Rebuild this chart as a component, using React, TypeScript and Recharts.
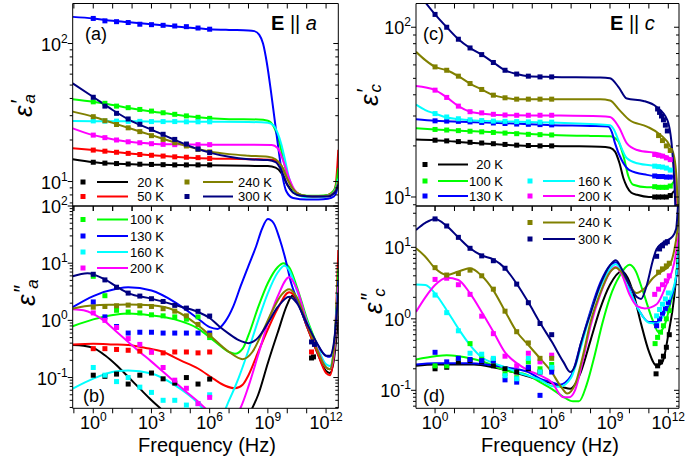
import React from "react"
import { ComposedChart, Line, Scatter, XAxis, YAxis } from "recharts"

const W = 685
const H = 457
const FONT = "'Liberation Sans', Arial, Helvetica, sans-serif"

// temperatures and their colours
const temps = ["20 K", "50 K", "100 K", "130 K", "160 K", "200 K", "240 K", "300 K"]
const colors = ["#000000", "#ff0000", "#00ff00", "#0000ff", "#00ffff", "#ff00ff", "#808000", "#000080"]

// log10 of the frequencies of the low-frequency data points
const ptLogF = [0, 0.6, 1.2, 1.8, 2.4, 3.0, 3.6, 4.2, 4.8, 5.4, 6.0]

// axis ticks (x in decades)
const xTicksA = [-1, 0, 1, 2, 3, 4, 5, 6, 7, 8, 9, 10, 11, 12]
const xTicksC = [0, 1, 2, 3, 4, 5, 6, 7, 8, 9, 10, 11, 12]
const yTicksA = [7, 8, 9, 10, 20, 30, 40, 50, 60, 70, 80, 90, 100]
const yTicksB = [0.03, 0.04, 0.05, 0.06, 0.07, 0.08, 0.09, 0.1, 0.2, 0.3, 0.4, 0.5, 0.6, 0.7, 0.8, 0.9, 1, 2, 3, 4, 5, 6, 7, 8, 9, 10, 20, 30, 40, 50, 60, 70, 80, 90, 100]
const yTicksC = [9, 10, 20, 30, 40, 50, 60, 70, 80, 90, 100]
const yTicksD = [0.06, 0.07, 0.08, 0.09, 0.1, 0.2, 0.3, 0.4, 0.5, 0.6, 0.7, 0.8, 0.9, 1, 2, 3, 4, 5, 6, 7, 8, 9, 10, 20, 30]

// (a) eps'_a : fits as [log10 f, value], points at ptLogF
const a20Fit = [[-1.06, 14.5], [0, 13.8], [1, 13.5], [2, 13.35], [4, 13.2], [6, 13.1], [8, 13.0], [9, 12.95], [9.4, 12.6], [9.7, 11.5], [10, 9.5], [10.3, 8.4], [10.7, 7.9], [11.2, 7.8], [11.7, 7.8], [12.1, 7.9], [12.4, 8.3], [12.52, 8.8], [12.63, 10]]
const a50Fit = [[-1.06, 17.4], [0, 16.9], [1, 16.4], [2, 15.9], [3, 15.5], [4, 15.2], [5, 14.9], [6, 14.7], [7, 14.6], [8.5, 14.5], [9.3, 14.3], [9.7, 13], [10, 10.5], [10.3, 8.8], [10.7, 8.0], [11.2, 7.8], [11.7, 7.8], [12.1, 8.0], [12.4, 8.6], [12.5, 9.5], [12.58, 13], [12.63, 17]]
const a100Fit = [[-1.06, 39.5], [0, 37.8], [1, 35.8], [2, 33.8], [3, 32.2], [4, 30.9], [5, 29.6], [6, 28.7], [7, 28.3], [8.5, 28.2], [9, 27.6], [9.3, 25], [9.6, 19], [9.9, 12.5], [10.2, 9.3], [10.5, 8.2], [11, 7.9], [11.6, 7.9], [12.1, 8.0], [12.4, 8.6], [12.52, 9.5], [12.63, 12.5]]
const a130Fit = [[-1.06, 156], [0, 152], [1, 146], [2, 142], [3, 138], [4, 134], [5, 130], [6, 127], [7, 125.5], [8, 124.5], [8.3, 123], [8.55, 116], [8.75, 100], [8.95, 72], [9.15, 46], [9.35, 28], [9.55, 17], [9.75, 11], [9.95, 8.5], [10.3, 7.6], [11, 7.4], [11.6, 7.4], [12.1, 7.5], [12.4, 7.8], [12.52, 8.3], [12.63, 10]]
const a160Fit = [[-1.06, 27.5], [0, 27.4], [2, 27.3], [4, 27.2], [6, 27.1], [8, 27.0], [9, 26.7], [9.3, 25.5], [9.5, 22.5], [9.7, 18.5], [9.9, 14], [10.1, 10.5], [10.3, 8.8], [10.5, 8.0], [11, 7.7], [11.6, 7.7], [12.1, 7.9], [12.4, 8.4], [12.52, 9], [12.63, 10.5]]
const a200Fit = [[-1.06, 24.3], [0, 21.7], [0.6, 20.8], [1.2, 20.0], [1.8, 19.4], [2.4, 19.1], [3, 18.8], [4, 18.6], [6, 18.5], [8, 18.5], [9.2, 18.4], [9.5, 17.5], [9.8, 14], [10.1, 10.5], [10.4, 8.6], [10.8, 7.9], [11.4, 7.8], [12.1, 7.9], [12.4, 8.3], [12.52, 8.8], [12.63, 10]]
const a240Fit = [[-1.06, 32.1], [0, 29.5], [1, 26.6], [2, 24.0], [3, 21.7], [4, 19.6], [5, 17.8], [6, 16.5], [7, 15.8], [8, 15.4], [9, 15.1], [9.4, 14.5], [9.7, 13], [10, 10.5], [10.3, 8.8], [10.7, 8.0], [11.3, 7.8], [12.1, 7.9], [12.4, 8.3], [12.52, 8.8], [12.63, 10]]
const a300Fit = [[-1.06, 51.5], [0, 41], [1, 33], [2, 27.3], [3, 23.8], [4, 20.6], [5, 18], [6, 16.2], [7, 15.1], [8, 14.5], [9, 14.3], [9.4, 13.8], [9.7, 12], [10, 9.5], [10.3, 8.3], [10.7, 7.9], [11.3, 7.8], [12.1, 7.8], [12.4, 8.2], [12.52, 8.6], [12.63, 9.5]]
const a20Pts = [13.8, 13.6, 13.5, 13.4, 13.35, 13.3, 13.25, 13.2, 13.2, 13.2, 13.2]
const a50Pts = [16.9, 16.6, 16.3, 16.0, 15.7, 15.5, 15.3, 15.1, 15.0, 14.9, 14.7]
const a100Pts = [37.8, 36.9, 35.2, 34.3, 33.3, 32.4, 31.5, 30.7, 29.9, 29.2, 28.7]
const a130Pts = [152, 146, 144, 142, 138, 137, 135.5, 134, 132.5, 129.5, 127]
const a160Pts = [27.5, 27.4, 27.4, 27.3, 27.3, 27.2, 27.2, 27.2, 27.1, 27.1, 27.1]
const a200Pts = [21.7, 20.8, 20.0, 19.4, 19.1, 18.8, 18.6, 18.5, 18.5, 18.5, 18.5]
const a240Pts = [29.5, 27.6, 25.9, 24.5, 23.0, 21.5, 20.2, 19.1, 18.1, 17.1, 16.4]
const a300Pts = [40.8, 35.2, 31.2, 28.4, 26.0, 23.9, 22.0, 20.2, 18.7, 17.2, 16.2]

// (b) eps''_a
const b20Fit = [[-1.06, 0.37], [-0.5, 0.36], [0, 0.33], [0.6, 0.245], [1.2, 0.164], [1.8, 0.103], [2.4, 0.064], [3, 0.04], [3.6, 0.026], [4.2, 0.016], [5, 0.009], [6, 0.006], [7, 0.007], [7.6, 0.012], [8.1, 0.025], [8.5, 0.05], [9, 0.18], [9.5, 0.6], [10, 1.9], [10.25, 2.7], [10.5, 2.2], [11, 0.8], [11.5, 0.3], [12, 0.13], [12.2, 0.12], [12.4, 0.2], [12.63, 1.2]]
const b50Fit = [[-1.06, 0.38], [0, 0.39], [1, 0.38], [1.8, 0.37], [2.7, 0.33], [3.6, 0.28], [4.5, 0.2], [5.4, 0.144], [6.2, 0.095], [6.8, 0.072], [7.3, 0.065], [7.7, 0.075], [8, 0.11], [8.5, 0.28], [9, 0.7], [9.5, 1.6], [10.1, 3.1], [10.5, 2.3], [11, 0.8], [11.5, 0.3], [12, 0.12], [12.2, 0.11], [12.4, 0.25], [12.63, 17]]
const b100Fit = [[-1.06, 0.79], [0, 1.04], [1.2, 1.27], [1.8, 1.32], [3, 1.22], [4.2, 1.04], [5.4, 0.72], [6.3, 0.42], [7, 0.28], [7.3, 0.26], [7.7, 0.32], [8, 0.55], [8.5, 1.7], [9, 4.5], [9.5, 8.5], [9.8, 10], [10.1, 8.5], [10.5, 3.8], [11, 1.1], [11.5, 0.4], [12, 0.15], [12.2, 0.14], [12.4, 0.3], [12.63, 8]]
const b130Fit = [[-1.06, 1.7], [0, 2.66], [1.2, 3.56], [1.8, 3.8], [3, 3.33], [4.2, 2.09], [5.4, 1.07], [6, 0.76], [6.4, 0.71], [6.8, 0.95], [7.2, 1.7], [7.6, 4], [8, 9], [8.4, 20], [8.7, 40], [9, 59], [9.3, 50], [9.6, 27], [9.9, 12], [10.2, 4.5], [10.5, 2.3], [11, 0.85], [11.5, 0.4], [12, 0.24], [12.2, 0.23], [12.4, 0.35], [12.63, 5]]
const b160Fit = [[-1.06, 0.064], [0, 0.096], [1.2, 0.129], [1.8, 0.133], [3, 0.118], [4.2, 0.074], [5.4, 0.036], [6, 0.022], [6.6, 0.022], [7, 0.04], [7.5, 0.1], [8, 0.3], [8.5, 1.0], [9, 3], [9.5, 6.8], [9.85, 9], [10.1, 7.5], [10.5, 3.3], [11, 1.0], [11.5, 0.38], [12, 0.17], [12.2, 0.16], [12.4, 0.3], [12.63, 4]]
const b200Fit = [[-1.06, 1.56], [-0.5, 1.5], [0, 1.3], [0.6, 0.96], [1.2, 0.63], [1.8, 0.42], [2.4, 0.28], [3, 0.19], [3.6, 0.126], [4.2, 0.084], [4.8, 0.056], [5.4, 0.038], [6, 0.025], [7, 0.018], [7.6, 0.03], [8, 0.07], [8.5, 0.25], [9, 0.9], [9.5, 2.6], [10.1, 5.7], [10.5, 3.5], [11, 0.95], [11.5, 0.35], [12, 0.15], [12.2, 0.14], [12.4, 0.25], [12.63, 4]]
const b240Fit = [[-1.06, 1.6], [0, 1.83], [1, 1.88], [1.8, 1.9], [3, 1.83], [4.2, 1.49], [5.4, 0.82], [6, 0.55], [7, 0.28], [7.7, 0.21], [8.2, 0.28], [8.7, 0.6], [9.2, 1.4], [9.7, 2.8], [10.1, 3.5], [10.5, 2.5], [11, 0.9], [11.5, 0.33], [12, 0.15], [12.2, 0.14], [12.4, 0.3], [12.63, 3]]
const b300Fit = [[-1.06, 5.9], [-0.3, 6.7], [0.6, 5.2], [1.2, 3.9], [1.8, 3.0], [3, 2.4], [4.2, 1.85], [5.4, 1.4], [6, 1.1], [6.5, 0.78], [7, 0.58], [7.5, 0.45], [8, 0.4], [8.5, 0.5], [9, 0.9], [9.5, 1.7], [10.1, 2.6], [10.5, 2.0], [11, 0.9], [11.5, 0.42], [12, 0.24], [12.2, 0.24], [12.4, 0.4], [12.63, 3]]
const b20Pts = [0.11, 0.105, 0.115, 0.077, 0.11, 0.12, 0.095, 0.08, 0.1, 0.077, 0.094]
const b50Pts = [0.32, 0.32, 0.31, 0.30, 0.29, 0.28, 0.27, 0.28, 0.28, 0.27, 0.28]
const b100Pts = [5.9, 2.7, 1.5, 1.4, 1.35, 1.25, 1.2, 1.15, 1.05, 1.15, 0.5]
const b130Pts = [2.1, 1.15, 0.78, 0.6, 0.62, 0.62, 0.6, 0.6, 0.6, 0.6, 0.6]
const b160Pts = [0.15, 0.11, 0.085, 0.1, 0.068, 0.055, 0.04, 0.04, 0.033, 0.035, 0.05]
const b200Pts = [1.35, 1.0, 0.75, 0.48, 0.38, 0.28, 0.15, 0.09, 0.065, 0.035, 0.045]
const b240Pts = [1.7, 1.75, 1.8, 1.85, 1.8, 1.75, 1.6, 1.45, 1.2, 0.85, 0.55]
const b300Pts = [6.4, 5.1, 3.8, 3.0, 2.66, 2.39, 2.14, 1.83, 1.64, 1.44, 1.19]
const b20Thz = [[11.25, 0.22], [11.35, 0.23]]
const b50Thz = [[11.25, 0.28]]
const b300Thz = [[11.25, 0.42], [11.4, 0.38]]

// (c) eps'_c
const c20Fit = [[-0.98, 21.8], [0, 21.6], [1, 21.2], [2, 20.8], [3, 20.5], [4, 20.2], [5, 20.0], [6, 19.95], [7, 19.9], [8.5, 19.8], [9, 19.5], [9.26, 18.5], [9.49, 15.8], [9.7, 12.8], [9.87, 11.5], [10.1, 10.6], [10.4, 10.3], [11, 10.0], [11.6, 10.0], [12.1, 10.2], [12.3, 10.8], [12.42, 9], [12.5, 6]]
const c100Fit = [[-0.98, 25.4], [0, 25], [2, 24.4], [4, 23.8], [6, 23.2], [8, 22.9], [9, 22.8], [9.4, 21.5], [9.7, 17.3], [9.95, 13.2], [10.2, 11.8], [10.9, 11.4], [11.6, 11.4], [12.1, 11.6], [12.35, 12.5], [12.45, 9], [12.55, 6]]
const c130Fit = [[-0.98, 28.7], [0, 28.1], [2, 27.6], [4, 27.1], [6, 26.5], [8, 26.2], [8.9, 26.0], [9.1, 24], [9.26, 20.7], [9.6, 16.5], [10, 14.4], [10.9, 13.5], [11.6, 13.2], [12.2, 13.2], [12.38, 12.5], [12.45, 8], [12.55, 5]]
const c160Fit = [[-0.98, 35], [-0.5, 32.5], [0, 31], [0.6, 29.4], [1.2, 28.8], [2, 28.2], [4, 27.8], [6, 27.5], [8, 26.9], [9, 26.5], [9.2, 25], [9.43, 21.6], [9.87, 16.9], [10.4, 15.8], [11.6, 15.1], [12.2, 14.5], [12.4, 13], [12.48, 8], [12.55, 5]]
const c200Fit = [[-0.98, 45], [0, 42.6], [0.6, 38.6], [1.2, 34.3], [1.8, 31.8], [2.4, 31.0], [3, 30.5], [4, 30.3], [6, 30.2], [8.5, 29.9], [9, 29.6], [9.25, 28], [9.49, 25.4], [9.87, 20.7], [10.4, 18.9], [11.6, 17.9], [12.2, 16.5], [12.38, 14], [12.45, 9], [12.55, 6]]
const c240Fit = [[-0.98, 71.7], [-0.5, 64], [0, 58.4], [0.6, 55.8], [1.2, 51.5], [1.8, 46.6], [2.4, 43], [3, 39.8], [3.6, 38.4], [4.2, 37.7], [6, 37.6], [8.5, 37.6], [9, 37], [9.49, 32.5], [10, 28.4], [10.9, 26], [11.6, 23.2], [12.1, 19.8], [12.3, 17.3], [12.42, 13], [12.5, 8]]
const c300Fit = [[-0.98, 165], [-0.5, 140], [0, 119], [0.6, 100], [1.2, 85], [1.8, 75.5], [2.4, 69], [3, 62], [3.6, 55.8], [4.2, 53], [4.8, 51.5], [6, 51], [8.5, 50.6], [9, 50], [9.43, 44.6], [9.87, 38], [10.72, 36.8], [11.4, 33.9], [11.95, 28.4], [12.2, 18.9], [12.35, 9.5], [12.42, 5]]
const c20Pts = [21.6, 21.4, 21.2, 21.0, 20.8, 20.6, 20.4, 20.2, 20.1, 20.0, 20.0]
const c100Pts = [25, 24.8, 24.6, 24.4, 24.2, 24.0, 23.8, 23.6, 23.4, 23.3, 23.2]
const c130Pts = [28.1, 28.0, 27.9, 27.7, 27.5, 27.3, 27.1, 26.9, 26.8, 26.7, 26.6]
const c160Pts = [31, 29.6, 28.9, 28.5, 28.2, 28.0, 27.9, 27.8, 27.7, 27.6, 27.6]
const c200Pts = [42.6, 38.6, 34.3, 31.8, 31.3, 30.7, 30.4, 30.3, 30.3, 30.3, 30.3]
const c240Pts = [58.4, 55.8, 51.5, 46.6, 43, 39.8, 38.4, 37.7, 37.7, 37.7, 37.7]
const c300Pts = [119, 100, 85, 75.5, 69, 62, 55.8, 53, 51.5, 51, 51]
const c20Thz = [[11.3, 10.0], [11.5, 10.0], [11.7, 10.0], [11.9, 10.0], [12.1, 10.2]]
const c100Thz = [[11.3, 11.5], [11.5, 11.4], [11.7, 11.4], [11.9, 11.4], [12.1, 11.6]]
const c130Thz = [[11.3, 13.3], [11.5, 13.2], [11.7, 13.2], [11.9, 13.1], [12.1, 13.1]]
const c160Thz = [[11.3, 15.2], [11.5, 15.1], [11.7, 15], [11.9, 14.8], [12.1, 14.4]]
const c200Thz = [[11.3, 17.8], [11.5, 17.6], [11.7, 17.4], [11.9, 17], [12.1, 16.6]]
const c240Thz = [[11.5, 23], [11.7, 21.5], [11.9, 20], [12.1, 18.8]]
const c300Thz = [[11.45, 33], [11.55, 31.5], [11.65, 30], [11.75, 28.5], [11.85, 26.5], [11.95, 24.5]]

// (d) eps''_c
const d20Fit = [[-0.98, 0.22], [0, 0.23], [2, 0.23], [3, 0.21], [4, 0.18], [5, 0.15], [6, 0.125], [6.6, 0.11], [6.95, 0.105], [7.5, 0.18], [8, 0.5], [8.5, 1.4], [9, 3.0], [9.6, 4.6], [9.9, 3.8], [10.2, 2.3], [10.6, 0.85], [11, 0.35], [11.4, 0.22], [11.7, 0.25], [12, 0.6], [12.3, 2], [12.5, 8], [12.55, 14]]
const d100Fit = [[-0.98, 0.27], [0, 0.3], [0.6, 0.31], [1.2, 0.3], [1.8, 0.28], [2.4, 0.255], [3.6, 0.19], [4.8, 0.162], [5.4, 0.13], [6, 0.105], [6.6, 0.081], [7.1, 0.07], [7.4, 0.07], [7.8, 0.12], [8.2, 0.3], [8.6, 0.85], [9, 2.0], [9.5, 4.0], [10, 5.7], [10.3, 4.8], [10.7, 2.4], [11.2, 0.95], [11.5, 0.65], [11.8, 0.8], [12.1, 1.6], [12.4, 4], [12.55, 12]]
const d130Fit = [[-0.98, 0.23], [0, 0.24], [1.8, 0.24], [3.6, 0.21], [4.8, 0.18], [5.4, 0.146], [6, 0.13], [6.4, 0.12], [7, 0.16], [7.5, 0.45], [8, 1.3], [8.5, 3.2], [9, 5.6], [9.3, 6.2], [9.6, 4.8], [10, 2.6], [10.5, 1.3], [11, 0.9], [11.4, 0.9], [11.8, 1.2], [12.1, 1.8], [12.4, 3.8], [12.55, 9]]
const d160Fit = [[-0.98, 3.03], [-0.5, 2.97], [0, 2.27], [0.6, 1.32], [1.2, 0.73], [1.8, 0.43], [2.4, 0.29], [3, 0.24], [3.6, 0.21], [4.2, 0.18], [5.4, 0.14], [6, 0.115], [6.4, 0.112], [7, 0.15], [7.5, 0.4], [8, 1.2], [8.5, 2.8], [9, 5.0], [9.3, 5.8], [9.6, 4.5], [10, 2.5], [10.5, 1.3], [11, 0.88], [11.4, 0.86], [11.8, 1.2], [12.1, 2], [12.4, 4], [12.55, 9]]
const d200Fit = [[-0.98, 1.25], [-0.5, 2.0], [0, 2.97], [0.6, 3.76], [1.2, 3.5], [1.8, 2.27], [2.4, 1.25], [3, 0.66], [3.6, 0.34], [4.2, 0.24], [4.8, 0.19], [5.4, 0.162], [6, 0.13], [6.6, 0.08], [6.9, 0.08], [7.2, 0.1], [7.6, 0.26], [8, 0.8], [8.5, 2.2], [9, 4.5], [9.3, 5.3], [9.6, 4.2], [10, 2.2], [10.4, 1.5], [10.8, 1.4], [11.4, 1.6], [11.9, 3.0], [12.3, 6], [12.55, 16]]
const d240Fit = [[-0.98, 9.7], [-0.5, 7.4], [0, 5.1], [0.6, 4.1], [1.2, 4.6], [1.8, 5.1], [2.4, 4.0], [3, 2.5], [3.6, 1.28], [4.2, 0.66], [4.8, 0.43], [5.4, 0.28], [6, 0.18], [6.5, 0.11], [6.8, 0.09], [7.2, 0.12], [7.6, 0.3], [8, 0.9], [8.5, 2.3], [9, 4.5], [9.3, 5.2], [9.6, 4.5], [10, 3.0], [10.35, 2.3], [10.8, 2.7], [11.2, 3.7], [11.6, 4.5], [12.06, 5.6], [12.3, 9], [12.45, 16], [12.55, 30]]
const d300Fit = [[-0.98, 17.5], [-0.5, 22], [0, 25], [0.6, 19.9], [1.2, 13.8], [1.8, 9.7], [2.4, 7.7], [3, 6.8], [3.6, 5.1], [4.2, 3.1], [4.8, 1.7], [5.4, 0.88], [6, 0.48], [6.6, 0.25], [6.95, 0.18], [7.2, 0.22], [7.5, 0.45], [8, 1.2], [8.5, 3.0], [9, 5.6], [9.3, 6.6], [9.6, 5.0], [10, 3.0], [10.4, 2.0], [10.6, 1.9], [10.9, 3.0], [11.2, 6.5], [11.4, 9.5], [11.8, 12], [12.2, 14], [12.4, 18], [12.5, 40]]
const d20Pts = [0.2, 0.21, 0.25, 0.26, 0.25, 0.22, 0.2, 0.18, 0.2, 0.18, 0.2]
const d100Pts = [0.22, 0.22, 0.28, 0.45, 0.28, 0.27, 0.17, 0.15, 0.25, 0.2, 0.23]
const d130Pts = [0.34, 0.25, 0.28, 0.27, 0.26, 0.26, 0.14, 0.13, 0.21, 0.085, 0.18]
const d160Pts = [2.15, 1.22, 0.68, 0.33, 0.32, 0.28, 0.16, 0.145, 0.28, 0.18, 0.21]
const d200Pts = [3.56, 3.7, 3.0, 2.2, 1.09, 0.62, 0.3, 0.22, 0.33, 0.25, 0.31]
const d240Pts = [5.2, 4.1, 4.3, 4.8, 4.0, 2.6, 1.28, 0.66, 0.46, 0.28, 0.28]
const d300Pts = [25, 19.9, 13.8, 9.7, 7.6, 6.5, 5.1, 3.06, 1.68, 0.86, 0.6]
const d20Thz = [[11.37, 0.17], [11.45, 0.22], [11.6, 0.25], [11.75, 0.3], [11.9, 0.4], [12.05, 0.6]]
const d100Thz = [[11.32, 0.45], [11.45, 0.55], [11.6, 0.65], [11.75, 0.8], [11.9, 1.0], [12.05, 1.3]]
const d130Thz = [[11.4, 0.8], [11.55, 1.0], [11.7, 1.2], [11.85, 1.4], [12.0, 1.7]]
const d160Thz = [[11.4, 1.1], [11.55, 1.35], [11.7, 1.6], [11.85, 1.9], [12.0, 2.3]]
const d200Thz = [[11.3, 2.2], [11.5, 2.6], [11.7, 3.0], [11.9, 3.4], [12.05, 4]]
const d240Thz = [[11.5, 4.5], [11.7, 5], [11.9, 5.5], [12.05, 6]]
const d300Thz = [[11.4, 7.5], [11.55, 9.5], [11.7, 10.5], [11.85, 11.5], [11.95, 12]]

type Pair = number[]
type Series = { t: number; fit: Pair[]; pts: number[]; thz?: Pair[] }

const rows = (pairs: Pair[]) => pairs.map(([lf, v]) => ({ lf, v }))
const ptRows = (vals: number[], thz: Pair[] = []) =>
  ptLogF.map((lf, i) => ({ lf, v: vals[i] })).concat(rows(thz))

const panels = [
  {
    id: "a", box: [72.7, 3.5, 338.3, 206], xDomain: [-1.06, 12.63], yDomain: [6.65, 195],
    xTicks: xTicksA, yTicks: yTicksA, xLabels: false,
    series: [
      { t: 0, fit: a20Fit, pts: a20Pts }, { t: 1, fit: a50Fit, pts: a50Pts },
      { t: 2, fit: a100Fit, pts: a100Pts }, { t: 3, fit: a130Fit, pts: a130Pts },
      { t: 4, fit: a160Fit, pts: a160Pts }, { t: 5, fit: a200Fit, pts: a200Pts },
      { t: 6, fit: a240Fit, pts: a240Pts }, { t: 7, fit: a300Fit, pts: a300Pts },
    ] as Series[],
  },
  {
    id: "b", box: [72.7, 206, 338.3, 408.3], xDomain: [-1.06, 12.63], yDomain: [0.029, 100],
    xTicks: xTicksA, yTicks: yTicksB, xLabels: true,
    series: [
      { t: 0, fit: b20Fit, pts: b20Pts, thz: b20Thz }, { t: 1, fit: b50Fit, pts: b50Pts, thz: b50Thz },
      { t: 2, fit: b100Fit, pts: b100Pts }, { t: 3, fit: b130Fit, pts: b130Pts },
      { t: 4, fit: b160Fit, pts: b160Pts }, { t: 5, fit: b200Fit, pts: b200Pts },
      { t: 6, fit: b240Fit, pts: b240Pts }, { t: 7, fit: b300Fit, pts: b300Pts, thz: b300Thz },
    ] as Series[],
  },
  {
    id: "c", box: [416, 3.5, 679, 206], xDomain: [-0.98, 12.55], yDomain: [8.85, 138],
    xTicks: xTicksC, yTicks: yTicksC, xLabels: false,
    series: [
      { t: 0, fit: c20Fit, pts: c20Pts, thz: c20Thz }, { t: 2, fit: c100Fit, pts: c100Pts, thz: c100Thz },
      { t: 3, fit: c130Fit, pts: c130Pts, thz: c130Thz }, { t: 4, fit: c160Fit, pts: c160Pts, thz: c160Thz },
      { t: 5, fit: c200Fit, pts: c200Pts, thz: c200Thz }, { t: 6, fit: c240Fit, pts: c240Pts, thz: c240Thz },
      { t: 7, fit: c300Fit, pts: c300Pts, thz: c300Thz },
    ] as Series[],
  },
  {
    id: "d", box: [416, 206, 679, 408.3], xDomain: [-0.98, 12.55], yDomain: [0.056, 37.9],
    xTicks: xTicksC, yTicks: yTicksD, xLabels: true,
    series: [
      { t: 0, fit: d20Fit, pts: d20Pts, thz: d20Thz }, { t: 2, fit: d100Fit, pts: d100Pts, thz: d100Thz },
      { t: 3, fit: d130Fit, pts: d130Pts, thz: d130Thz }, { t: 4, fit: d160Fit, pts: d160Pts, thz: d160Thz },
      { t: 5, fit: d200Fit, pts: d200Pts, thz: d200Thz }, { t: 6, fit: d240Fit, pts: d240Pts, thz: d240Thz },
      { t: 7, fit: d300Fit, pts: d300Pts, thz: d300Thz },
    ] as Series[],
  },
]

const isDecade = (v: number) => {
  const e = Math.log10(v)
  return Math.abs(e - Math.round(e)) < 1e-6
}

function Pow({ x, y, exp, anchor }: { x: number; y: number; exp: number; anchor: "middle" | "end" }) {
  return (
    <text x={x} y={y} textAnchor={anchor} fontFamily={FONT} fontSize={18} fill="#000">
      10<tspan dy={-8} fontSize={12}>{exp}</tspan>
    </text>
  )
}

// axis sizes are 1px so that Recharts still draws them; ticks get the exact axis position
function BottomTick({ x = 0, y = 0, payload, labels }: any) {
  const e = payload?.value ?? 0
  return (
    <g>
      <line x1={x} x2={x} y1={y} y2={y + 5} stroke="#000" />
      {labels && e % 3 === 0 && <Pow x={x} y={y + 21} exp={e} anchor="middle" />}
    </g>
  )
}

function TopTick({ x = 0, y = 0 }: any) {
  return <line x1={x} x2={x} y1={y} y2={y + 5} stroke="#000" />
}

function LeftTick({ x = 0, y = 0, payload }: any) {
  const v = payload?.value ?? 1
  const major = isDecade(v)
  return (
    <g>
      <line x1={x - (major ? 5 : 3)} x2={x} y1={y} y2={y} stroke="#000" />
      {major && <Pow x={x - 5} y={y + 7} exp={Math.round(Math.log10(v))} anchor="end" />}
    </g>
  )
}

function RightTick({ x = 0, y = 0, payload }: any) {
  const v = payload?.value ?? 1
  const len = isDecade(v) ? 5 : 3
  return <line x1={x - len} x2={x} y1={y} y2={y} stroke="#000" />
}

const square = (color: string) => (p: any) =>
  <rect x={p.cx - 2.5} y={p.cy - 2.5} width={5} height={5} fill={color} />

function Panel({ box, xDomain, yDomain, xTicks, yTicks, xLabels, series }: any) {
  const [l, t, r, b] = box
  const axis = { stroke: "#000", strokeWidth: 1 }
  return (
    <div style={{ position: "absolute", left: 0, top: 0 }}>
      <ComposedChart width={W} height={H} margin={{ left: l - 1, top: t - 1, right: W - r - 1, bottom: H - b - 1 }}>
        <XAxis xAxisId="b" dataKey="lf" type="number" domain={xDomain} ticks={xTicks} interval={0}
          allowDataOverflow height={1} tickSize={0} tickMargin={0} tickLine={false} axisLine={axis}
          tick={(p: any) => <BottomTick {...p} labels={xLabels} />} />
        <XAxis xAxisId="t" orientation="top" dataKey="lf" type="number" domain={xDomain} ticks={xTicks}
          interval={0} allowDataOverflow height={1} tickSize={0} tickMargin={0} tickLine={false}
          axisLine={axis} tick={(p: any) => <TopTick {...p} />} />
        <YAxis yAxisId="l" dataKey="v" type="number" scale="log" domain={yDomain} ticks={yTicks}
          interval={0} allowDataOverflow width={1} tickSize={0} tickMargin={0} tickLine={false}
          axisLine={axis} tick={(p: any) => <LeftTick {...p} />} />
        <YAxis yAxisId="r" orientation="right" dataKey="v" type="number" scale="log" domain={yDomain}
          ticks={yTicks} interval={0} allowDataOverflow width={1} tickSize={0} tickMargin={0}
          tickLine={false} axisLine={axis} tick={(p: any) => <RightTick {...p} />} />
        {series.map((s: Series) => (
          <Line key={"l" + s.t} xAxisId="b" yAxisId="l" data={rows(s.fit)} dataKey="v" type="monotone"
            stroke={colors[s.t]} strokeWidth={2} dot={false} activeDot={false} isAnimationActive={false} />
        ))}
        {series.map((s: Series) => (
          <Scatter key={"s" + s.t} xAxisId="b" yAxisId="l" data={ptRows(s.pts, s.thz)} dataKey="v"
            shape={square(colors[s.t])} isAnimationActive={false} />
        ))}
      </ComposedChart>
    </div>
  )
}

function EpsTitle({ x, y, primes, sub }: { x: number; y: number; primes: string; sub: string }) {
  return (
    <text transform={`translate(${x},${y}) rotate(-90)`} fontFamily={FONT} fill="#000">
      <tspan fontSize={26} fontStyle="italic">ε</tspan>
      <tspan fontSize={22} dx={2} dy={-6}>{primes}</tspan>
      <tspan fontSize={17} fontStyle="italic" dx={primes.length > 1 ? -8 : -4} dy={9}>{sub}</tspan>
    </text>
  )
}

function LegendItem({ t, mx, x1, x2, tx, y }: { t: number; mx: number; x1: number; x2: number; tx: number; y: number }) {
  return (
    <g>
      <rect x={mx - 2.5} y={y - 2.5} width={5} height={5} fill={colors[t]} />
      <line x1={x1} x2={x2} y1={y} y2={y} stroke={colors[t]} strokeWidth={2} />
      <text x={tx} y={y + 4.5} textAnchor="end" fontFamily={FONT} fontSize={13} fill="#000">{temps[t]}</text>
    </g>
  )
}

const colL1 = { mx: 83, x1: 97, x2: 128, tx: 164 }
const colL2 = { mx: 187, x1: 203, x2: 233, tx: 272 }
const colR1 = { mx: 425, x1: 438, x2: 468, tx: 503 }
const colR2 = { mx: 530, x1: 543, x2: 575, tx: 612 }

export default function App() {
  return (
    <div style={{ position: "relative", width: W, height: H, background: "#fff" }}>
      <style>{"body{margin:0}"}</style>
      {panels.map((p) => <Panel key={p.id} {...p} />)}
      <svg width={W} height={H} style={{ position: "absolute", left: 0, top: 0, pointerEvents: "none" }}>
        <g fontFamily={FONT} fontSize={18} fill="#000">
          <text x={85} y={40}>(a)</text>
          <text x={83} y={402}>(b)</text>
          <text x={423} y={40}>(c)</text>
          <text x={423} y={402}>(d)</text>
        </g>
        <text x={271} y={30} fontFamily={FONT} fontSize={20} fill="#000">
          <tspan fontWeight="bold">E</tspan> || <tspan fontStyle="italic">a</tspan>
        </text>
        <text x={610} y={30} fontFamily={FONT} fontSize={20} fill="#000">
          <tspan fontWeight="bold">E</tspan> || <tspan fontStyle="italic">c</tspan>
        </text>
        <EpsTitle x={32} y={117} primes="′" sub="a" />
        <EpsTitle x={35} y={306} primes="″" sub="a" />
        <EpsTitle x={378} y={106} primes="′" sub="c" />
        <EpsTitle x={382} y={314} primes="″" sub="c" />
        <text x={207} y={452} textAnchor="middle" fontFamily={FONT} fontSize={20} fill="#000">Frequency (Hz)</text>
        <text x={550} y={452} textAnchor="middle" fontFamily={FONT} fontSize={20} fill="#000">Frequency (Hz)</text>
        <LegendItem t={0} {...colL1} y={182} />
        <LegendItem t={1} {...colL1} y={196.5} />
        <LegendItem t={6} {...colL2} y={182} />
        <LegendItem t={7} {...colL2} y={196.5} />
        <LegendItem t={2} {...colL1} y={219.5} />
        <LegendItem t={3} {...colL1} y={236} />
        <LegendItem t={4} {...colL1} y={252} />
        <LegendItem t={5} {...colL1} y={268} />
        <LegendItem t={0} {...colR1} y={164.5} />
        <LegendItem t={2} {...colR1} y={181} />
        <LegendItem t={3} {...colR1} y={196} />
        <LegendItem t={4} {...colR2} y={181} />
        <LegendItem t={5} {...colR2} y={196} />
        <LegendItem t={6} {...colR2} y={222.5} />
        <LegendItem t={7} {...colR2} y={239} />
      </svg>
    </div>
  )
}
